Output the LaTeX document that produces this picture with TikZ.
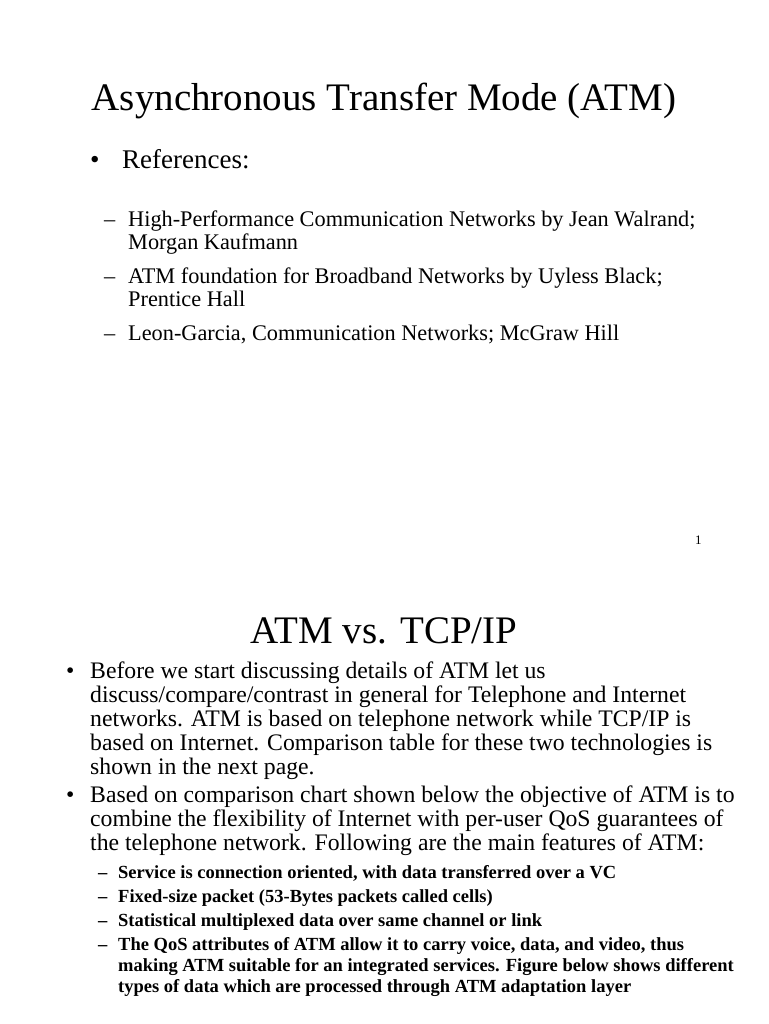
\documentclass[tikz,border=0pt]{standalone}
\usepackage{fontspec}
\setmainfont{Liberation Serif}
\begin{document}
\begin{tikzpicture}[x=1pt,y=-1pt,
  ttl/.style={anchor=center,inner sep=0,font=\fontsize{39}{41}\selectfont},
  lvr/.style={anchor=mid west,inner sep=0,font=\fontsize{27}{29}\selectfont},
  lvl/.style={anchor=mid west,inner sep=0,font=\fontsize{23.7}{25}\selectfont},
  lvs/.style={anchor=mid west,inner sep=0,font=\fontsize{22.3}{24}\selectfont},
  lvb/.style={anchor=mid west,inner sep=0,font=\fontsize{18.5}{20}\bfseries\selectfont}]
\useasboundingbox (0,0) rectangle (768,1024);
\fill[white] (0,0) rectangle (768,1024);
\node[ttl] (t1) at (384,101) {Asynchronous Transfer Mode (ATM)};
\node[lvr] (b0) at (90,166) {•};
\node[lvr] (r) at (122,166) {References:};
\node[lvs] (d1) at (104,224) {–};
\node[lvs] (s1) at (128,224) {High-Performance Communication Networks by Jean Walrand;};
\node[lvs] (s1b) at (128,247) {Morgan Kaufmann};
\node[lvs] (d2) at (104,281) {–};
\node[lvs] (s2) at (128,281) {ATM foundation for Broadband Networks by Uyless Black;};
\node[lvs] (s2b) at (128,304) {Prentice Hall};
\node[lvs] (d3) at (104,338) {–};
\node[lvs] (s3) at (128,338) {Leon-Garcia, Communication Networks; McGraw Hill};
\node[anchor=mid west,inner sep=0,font=\fontsize{13}{15}\selectfont] (pg) at (695,542) {1};
\node[ttl] (t2) at (384,631) {ATM vs. TCP/IP};
\node[lvl] (c1) at (66,676) {•};
\node[lvl] (a1) at (90,676) {Before we start discussing details of ATM let us};
\node[lvl] (a2) at (90,700) {discuss/compare/contrast in general for Telephone and Internet};
\node[lvl] (a3) at (90,724) {networks. ATM is based on telephone network while TCP/IP is};
\node[lvl] (a4) at (90,748) {based on Internet. Comparison table for these two technologies is};
\node[lvl] (a5) at (90,772) {shown in the next page.};
\node[lvl] (c2) at (66,800) {•};
\node[lvl] (e1) at (90,800) {Based on comparison chart shown below the objective of ATM is to};
\node[lvl] (e2) at (90,824) {combine the flexibility of Internet with per-user QoS guarantees of};
\node[lvl] (e3) at (90,848) {the telephone network. Following are the main features of ATM:};
\node[lvb] (f1d) at (98,876) {–};
\node[lvb] (f1) at (118,876) {Service is connection oriented, with data transferred over a VC};
\node[lvb] (f2d) at (98,900) {–};
\node[lvb] (f2) at (118,900) {Fixed-size packet (53-Bytes packets called cells)};
\node[lvb] (f3d) at (98,924) {–};
\node[lvb] (f3) at (118,924) {Statistical multiplexed data over same channel or link};
\node[lvb] (f4d) at (98,948) {–};
\node[lvb] (f4) at (118,948) {The QoS attributes of ATM allow it to carry voice, data, and video, thus};
\node[lvb] (f4b) at (118,969) {making ATM suitable for an integrated services. Figure below shows different};
\node[lvb] (f4c) at (118,990) {types of data which are processed through ATM adaptation layer};
\end{tikzpicture}
\end{document}
